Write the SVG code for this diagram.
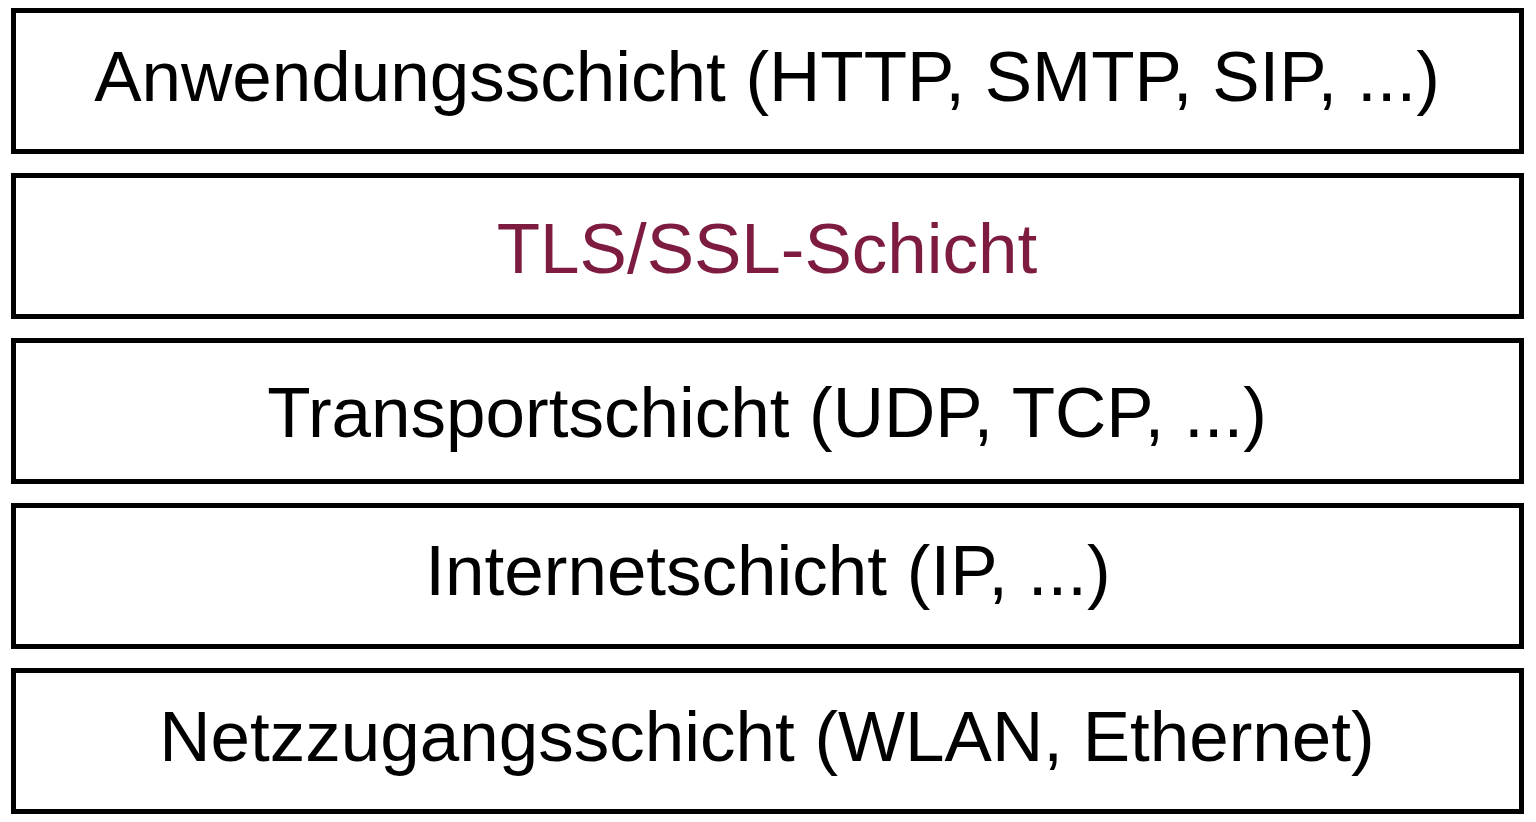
<svg xmlns="http://www.w3.org/2000/svg" width="1536" height="822" viewBox="0 0 1536 822">
<style>
.box{fill:#fff;stroke:#000;stroke-width:5}
.t{font-family:"Liberation Sans",Arial,sans-serif;font-size:71px;fill:#000;text-anchor:middle}
.tls{fill:#7d1b41}
</style>
<rect width="1536" height="822" fill="#fff"/>
<g id="anwendung"><rect class="box" x="13.5" y="10.5" width="1508" height="141"/><text class="t" x="767" y="101">Anwendungsschicht (HTTP, SMTP, SIP, ...)</text></g>
<g id="tls"><rect class="box" x="13.5" y="175.5" width="1508" height="141"/><text class="t tls" x="767" y="273">TLS/SSL-Schicht</text></g>
<g id="transport"><rect class="box" x="13.5" y="340.5" width="1508" height="141"/><text class="t" x="767" y="437">Transportschicht (UDP, TCP, ...)</text></g>
<g id="internet"><rect class="box" x="13.5" y="505.5" width="1508" height="141"/><text class="t" x="768" y="595">Internetschicht (IP, ...)</text></g>
<g id="netzzugang"><rect class="box" x="13.5" y="670.5" width="1508" height="141"/><text class="t" x="767" y="761">Netzzugangsschicht (WLAN, Ethernet)</text></g>
<g id="connectors"/>
</svg>
